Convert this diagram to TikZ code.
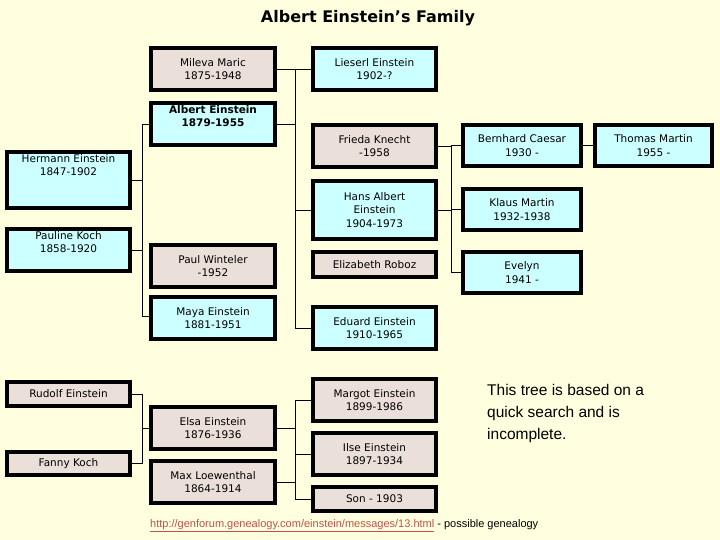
\documentclass[tikz,border=0pt]{standalone}
\usepackage{fontspec}
\setmainfont{DejaVu Sans}
\newfontfamily\arialf{Liberation Sans}
\usetikzlibrary{calc}
\definecolor{bg}{HTML}{FFFFE0}
\definecolor{cy}{HTML}{CCFFFF}
\definecolor{pk}{HTML}{EBDFD9}
\definecolor{lk}{HTML}{C0504D}
\newcommand{\bx}[8][]{\node[box,fill=#7,minimum width={#4-#2-4},minimum height={#5-#3-4},#1] (#6) at ({(#2+#4)/2},{(#3+#5)/2}) {#8};}
\begin{document}
\begin{tikzpicture}[x=1pt,y=-1pt,
  box/.style={draw=black,line width=4pt,align=center,inner sep=1pt,font=\fontsize{10.5}{13.5}\selectfont},
  top/.style={text depth=#1},
  ln/.style={line width=0.8pt}]
\fill[bg] (0,0) rectangle (720,540);
\useasboundingbox (0,0) rectangle (720,540);
\node[font=\bfseries\fontsize{16}{18}\selectfont] (title) at (368,18) {Albert Einstein’s Family};
% column 1
\bx[top=30pt]{5}{150}{132}{210}{herm}{cy}{Hermann Einstein\\1847-1902}
\bx[top=16pt]{5}{227}{132}{273}{paul}{cy}{Pauline Koch\\1858-1920}
\bx{5}{380}{132}{408}{rud}{pk}{Rudolf Einstein}
\bx{5}{450}{132}{477}{fan}{pk}{Fanny Koch}
% column 2
\bx{149}{46}{277}{92}{mil}{pk}{Mileva Maric\\1875-1948}
\bx[top=16pt]{149}{101}{277}{147}{alb}{cy}{\bfseries Albert Einstein\\\bfseries 1879-1955}
\bx{149}{243}{277}{289}{pwin}{pk}{Paul Winteler\\-1952}
\bx{149}{295}{277}{341}{maya}{cy}{Maya Einstein\\1881-1951}
\bx{149}{405}{277}{451}{elsa}{pk}{Elsa Einstein\\1876-1936}
\bx{149}{459}{277}{505}{max}{pk}{Max Loewenthal\\1864-1914}
% column 3
\bx{311}{46}{438}{92}{lie}{cy}{Lieserl Einstein\\1902-?}
\bx{311}{123}{438}{169}{fri}{pk}{Frieda Knecht\\-1958}
\bx{311}{179}{438}{241}{hans}{cy}{Hans Albert\\Einstein\\1904-1973}
\bx{311}{250}{438}{279}{eliz}{pk}{Elizabeth Roboz}
\bx{311}{305}{438}{351}{edu}{cy}{Eduard Einstein\\1910-1965}
\bx{311}{377}{438}{423}{mar}{pk}{Margot Einstein\\1899-1986}
\bx{311}{431}{438}{477}{ilse}{pk}{Ilse Einstein\\1897-1934}
\bx{311}{485}{438}{513}{son}{pk}{Son - 1903}
% column 4/5
\bx{461}{123}{583}{168}{bern}{cy}{Bernhard Caesar\\1930 -}
\bx{461}{187}{583}{232}{klaus}{cy}{Klaus Martin\\1932-1938}
\bx{461}{250}{583}{295}{evel}{cy}{Evelyn\\1941 -}
\bx{593}{123}{714}{168}{thom}{cy}{Thomas Martin\\1955 -}
% junctions
\coordinate (ja) at (295,0);
\coordinate (jp) at (142,0);
\coordinate (jh) at (451,0);
\coordinate (je) at (295,0);
% Albert & Mileva children
\draw[ln] (mil.east) -- (mil.east -| ja);
\draw[ln] (alb.east) -- (alb.east -| ja);
\draw[ln] (ja |- lie.west) -- (ja |- edu.west);
\draw[ln] (ja |- lie.west) -- (lie.west);
\draw[ln] (ja |- hans.west) -- (hans.west);
\draw[ln] (ja |- edu.west) -- (edu.west);
% Hermann & Pauline children
\draw[ln] (herm.east) -- (herm.east -| jp);
\draw[ln] (paul.east) -- (paul.east -| jp);
\draw[ln] ($(jp |- alb.west)+(0,0)$) -- ($(jp |- maya.west)+(0,-2)$);
\draw[ln] (jp |- alb.west) -- (alb.west);
\draw[ln] ($(jp |- maya.west)+(0,-2)$) -- ($(maya.west)+(0,-2)$);
% Hans & Frieda children
\draw[ln] (fri.east) -- (fri.east -| jh);
\draw[ln] (hans.east) -- (hans.east -| jh);
\draw[ln] (jh |- bern.west) -- (jh |- evel.west);
\draw[ln] (jh |- bern.west) -- (bern.west);
\draw[ln] (jh |- klaus.west) -- (klaus.west);
\draw[ln] (jh |- evel.west) -- (evel.west);
\draw[ln] (bern.east) -- (thom.west);
% Rudolf & Fanny
\draw[ln] (rud.east) -- (rud.east -| jp);
\draw[ln] (fan.east) -- (fan.east -| jp);
\draw[ln] (jp |- rud.east) -- (jp |- fan.east);
\draw[ln] (jp |- elsa.west) -- (elsa.west);
% Elsa & Max children
\draw[ln] (elsa.east) -- (elsa.east -| je);
\draw[ln] (max.east) -- (max.east -| je);
\draw[ln] (je |- mar.west) -- (je |- son.west);
\draw[ln] (je |- mar.west) -- (mar.west);
\draw[ln] (je |- ilse.west) -- (ilse.west);
\draw[ln] (je |- son.west) -- (son.west);
% notes
\node[anchor=north west,align=left,font=\arialf\fontsize{15.5}{22}\selectfont,inner sep=0pt] (note) at (487,384) {This tree is based on a\\quick search and is\\incomplete.};
\node[anchor=west,inner sep=0pt,font=\arialf\fontsize{11}{12}\selectfont] (url) at (150,526) {\textcolor{lk}{\underline{http://genforum.genealogy.com/einstein/messages/13.html}} - possible genealogy};
\end{tikzpicture}
\end{document}
